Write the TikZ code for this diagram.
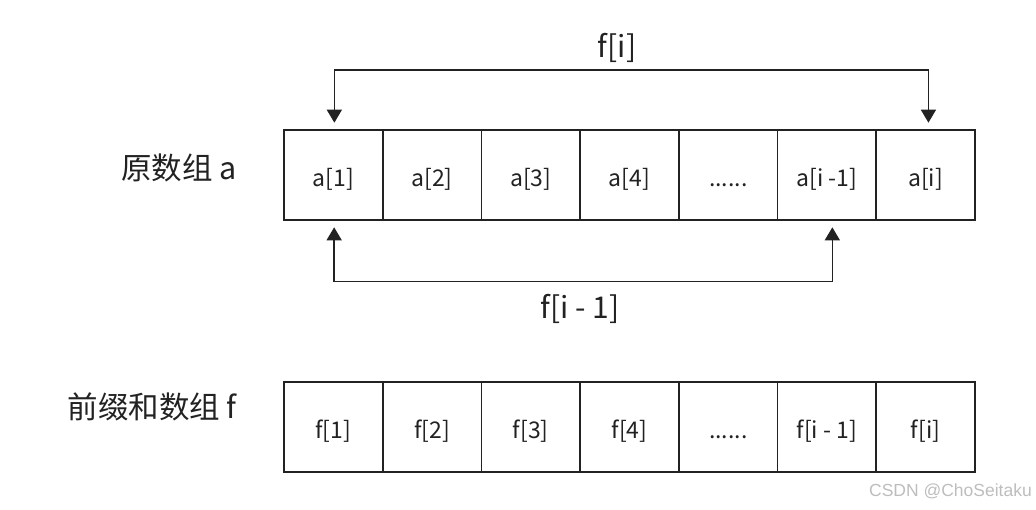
\documentclass[tikz,border=0pt]{standalone}
\usepackage{fontspec}
\setmainfont{Noto Sans CJK SC}
\newfontfamily\wmfont{Liberation Sans}
\usetikzlibrary{arrows.meta}
\definecolor{linec}{HTML}{222222}
\definecolor{wmc}{HTML}{BDBDBD}
\tikzset{
  cell/.style={draw=linec, line width=1.6pt, rectangle, minimum width=98.7pt, minimum height=90pt, inner sep=0pt, text height=23pt, text depth=-7pt, font=\fontsize{23}{27}\selectfont, text=linec},
  rowlabel/.style={anchor=east, inner sep=0pt, font=\fontsize{30.5}{36}\selectfont, text=linec},
  toplabel/.style={inner sep=0pt, font=\fontsize{30}{36}\selectfont, text=linec},
  arr/.style={draw=linec, line width=1.5pt, -{Triangle[width=15pt,length=13pt]}},
  wm/.style={inner sep=0pt, anchor=east, font=\wmfont\fontsize{17.5}{20}\selectfont, text=wmc}
}
\begin{document}
\begin{tikzpicture}[x=1pt,y=-1pt]
\useasboundingbox (0,0) rectangle (1036,509);
% top array
\foreach \i/\t in {1/{a[1]},2/{a[2]},3/{a[3]},4/{a[4]},5/{......},6/{a[i -1]},7/{a[i]}}{
  \node[cell] (a\i) at ({284+98.714*(\i-0.5)},175) {\t};
}
% bottom array
\foreach \i/\t in {1/{f[1]},2/{f[2]},3/{f[3]},4/{f[4]},5/{......},6/{f[i - 1]},7/{f[i]}}{
  \node[cell] (f\i) at ({284+98.714*(\i-0.5)},427) {\t};
}
% row labels
\node[rowlabel] (la) at (237,168) {原数组 a};
\node[rowlabel] (lf) at (237,407) {前缀和数组 f};
% top connector f[i]
\node[toplabel] (fi) at (617,48) {f[i]};
\coordinate (tmid) at (617,70);
\draw[arr] (tmid) -| ([xshift=1pt,yshift=6.5pt]a1.north);
\draw[arr] (tmid) -| ([xshift=2.8pt,yshift=6.5pt]a7.north);
% bottom connector f[i - 1]
\node[toplabel] (fim) at (580,309) {f[i - 1]};
\coordinate (bmid) at (580,281.5);
\draw[arr] (bmid) -| ([xshift=0.8pt,yshift=-6.5pt]a1.south);
\draw[arr] (bmid) -| ([xshift=5.4pt,yshift=-6.5pt]a6.south);
% watermark
\node[wm] (wm) at (1032,491) {CSDN @ChoSeitaku};
\end{tikzpicture}
\end{document}
